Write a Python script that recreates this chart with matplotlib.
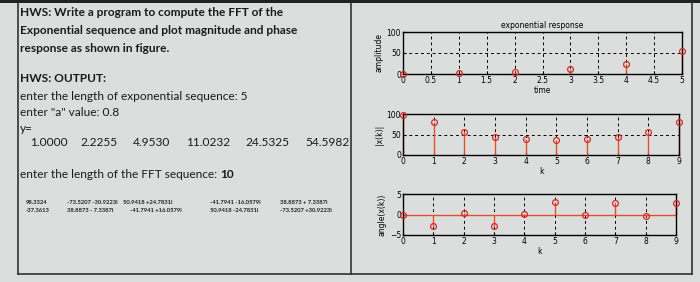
import matplotlib
matplotlib.use("Agg")
import matplotlib.pyplot as plt
import numpy as np

# data
n = [0, 1, 2, 3, 4, 5]
y_vals = [1.0000, 2.2255, 4.9530, 11.0232, 24.5325, 54.5982]
k = [0, 1, 2, 3, 4, 5, 6, 7, 8, 9]
mag = [98.33, 79.76, 56.65, 44.77, 39.57, 37.36, 39.57, 44.77, 56.65, 79.76]
phase = [0.0, -2.74, 0.45, -2.78, 0.19, 3.14, -0.19, 2.78, -0.45, 2.74]
fft_row1 = ["98.3324", "-73.5207 -30.9223i", "50.9418 +24.7831i",
            "-41.7941 -16.0579i", "38.8873 + 7.3387i"]
fft_row2 = ["-37.3613", "38.8873 - 7.3387i", "-41.7941 +16.0579i",
            "50.9418 -24.7831i", "-73.5207 +30.9223i"]

BG = "#dcdedd"
STEM = "#e0502c"
FONT = "Lato"

fig = plt.figure(figsize=(7, 2.82), dpi=100, facecolor=BG)

# background layer in pixel coordinates
bg = fig.add_axes([0, 0, 1, 1], zorder=-1)
bg.set_xlim(0, 700)
bg.set_ylim(282, 0)
bg.axis("off")
bg.add_patch(plt.Rectangle((0, 0), 700, 3, color="#222222", lw=0))
for xs, ys in [([18, 18], [3, 274]), ([18, 692], [274, 274]),
               ([351, 351], [3, 274]), ([692, 692], [3, 274])]:
    bg.plot(xs, ys, color="#333333", lw=1.2)

# left cell text
head = dict(fontfamily=FONT, fontsize=8.6, fontweight="bold", color="#1a1a1a", va="center")
body = dict(fontfamily=FONT, fontsize=8.6, color="#1a1a1a", va="center")
bg.text(20, 13, "HWS: Write a program to compute the FFT of the", **head)
bg.text(20, 31, "Exponential sequence and plot magnitude and phase", **head)
bg.text(20, 48, "response as shown in figure.", **head)
bg.text(20, 79, "HWS: OUTPUT:", **head)
bg.text(20, 96, "enter the length of exponential sequence: 5", **body)
bg.text(20, 112, 'enter "a" value: 0.8', **body)
bg.text(20, 128, "y=", **body)
for xr, v in zip([68, 118, 170, 230, 289, 350], y_vals):
    bg.text(xr, 143, f"{v:.4f}", ha="right", **body)
t = bg.text(20, 175, "enter the length of the FFT sequence: ", **body)
bg.annotate("10", xycoords=t, xy=(1, 0.5), va="center", fontfamily=FONT,
            fontsize=8.6, fontweight="bold", color="#1a1a1a")
small = dict(fontfamily=FONT, fontsize=4.2, fontweight="bold", color="#222222", va="center")
for xl, s in zip([26, 67, 123, 210, 280], fft_row1):
    bg.text(xl, 203, s, **small)
for xl, s in zip([26, 67, 130, 210, 280], fft_row2):
    bg.text(xl, 211, s, **small)


def style(ax, xlim, ylim, xticks, yticks):
    ax.set_facecolor(BG)
    ax.set_xlim(*xlim)
    ax.set_ylim(*ylim)
    ax.set_xticks(xticks)
    ax.set_yticks(yticks)
    ax.tick_params(direction="in", length=2, labelsize=5.5, pad=1.5)
    ax.grid(True, color="black", ls=(0, (3, 3)), lw=0.7)
    for s in ax.spines.values():
        s.set_linewidth(1.0)
    ax.xaxis.set_major_formatter(matplotlib.ticker.FuncFormatter(lambda v, p: f"{v:g}"))


def stems(ax, x, y, base=False):
    ml, sl, bl = ax.stem(x, y)
    plt.setp(sl, color=STEM, lw=1.0, clip_on=False)
    plt.setp(ml, marker="o", markersize=4.2, markerfacecolor="none",
             markeredgecolor="#d42a2a", markeredgewidth=0.9, clip_on=False, zorder=4)
    plt.setp(bl, color=STEM if base else "none", lw=1.0)


ax1 = fig.add_axes([403 / 700, 1 - 74 / 282, 279 / 700, 42 / 282])
stems(ax1, n, y_vals)
style(ax1, (0, 5), (0, 100), np.arange(0, 5.01, 0.5), [0, 50, 100])
ax1.set_title("exponential response", fontsize=5.5, pad=3)
ax1.set_xlabel("time", fontsize=5.5, labelpad=1)
ax1.set_ylabel("amplitude", fontsize=5.5, labelpad=2)

ax2 = fig.add_axes([403 / 700, 1 - 155 / 282, 276 / 700, 41 / 282])
stems(ax2, k, mag)
style(ax2, (0, 9), (0, 100), k, [0, 50, 100])
ax2.set_xlabel("k", fontsize=5.5, labelpad=1)
ax2.set_ylabel("|x(k)|", fontsize=5.5, labelpad=2)

ax3 = fig.add_axes([403 / 700, 1 - 235 / 282, 273 / 700, 41 / 282])
stems(ax3, k, phase, base=True)
style(ax3, (0, 9), (-5, 5), k, [-5, 0, 5])
ax3.set_xlabel("k", fontsize=5.5, labelpad=1)
ax3.set_ylabel("angle(x(k))", fontsize=5.5, labelpad=2)

fig.savefig("out.png", dpi=100, facecolor=BG)
